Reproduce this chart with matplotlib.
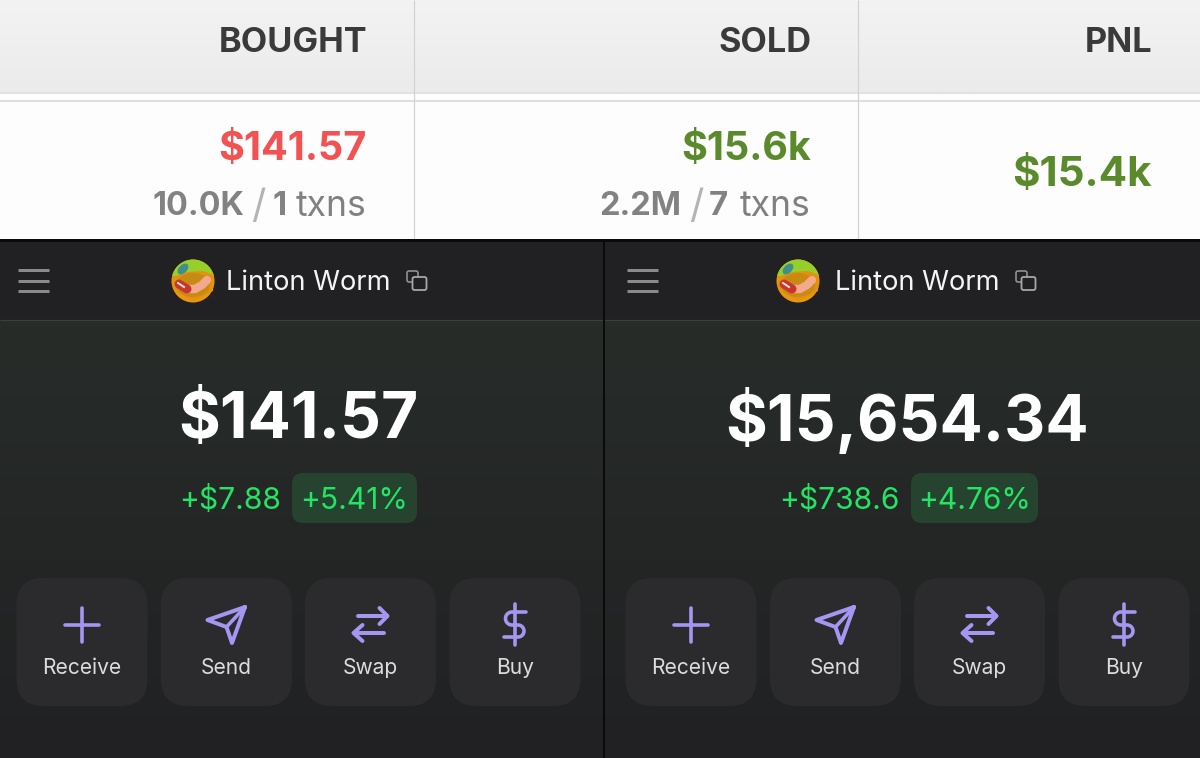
import numpy as np
import matplotlib
matplotlib.use("Agg")
import matplotlib.pyplot as plt
from matplotlib.patches import FancyBboxPatch, Circle, Rectangle, Wedge, Polygon, Ellipse

columns = ["BOUGHT", "SOLD", "PNL"]
amounts = ["$141.57", "$15.6k", "$15.4k"]
amount_colors = ["#f25252", "#5a8a2c", "#5a8a2c"]
volumes = ["10.0K", "2.2M"]
txns = ["1", "7"]
token = "Linton Worm"
balances = ["$141.57", "$15,654.34"]
changes = ["+$7.88", "+$738.6"]
percents = ["+5.41%", "+4.76%"]
actions = ["Receive", "Send", "Swap", "Buy"]

W, H = 1200, 758
fig = plt.figure(figsize=(12, 7.58), dpi=100, facecolor="white")
ax = fig.add_axes([0, 0, 1, 1])
ax.set_xlim(0, W); ax.set_ylim(H, 0); ax.axis("off")
PT = 0.72
HEAD = "Inter"
UI = "Inter"
PURPLE = "#a596f2"

def txt(x, y, s, px, color, ha="center", weight="normal", family=UI, z=5):
    return ax.text(x, y, s, fontsize=px * PT, color=color, ha=ha, va="center_baseline",
                   fontweight=weight, family=family, zorder=z)

def grad(x0, x1, y0, y1, c0, c1, z=0):
    g = np.linspace(0, 1, 64)[:, None, None]
    a = np.array(matplotlib.colors.to_rgb(c0))[None, None, :]
    b = np.array(matplotlib.colors.to_rgb(c1))[None, None, :]
    ax.imshow(a * (1 - g) + b * g, extent=(x0, x1, y1, y0), aspect="auto", zorder=z)

def ln(xs, ys, c, lw, z=4, cap="round"):
    ax.plot(xs, ys, color=c, lw=lw * PT, solid_capstyle=cap, solid_joinstyle="round", zorder=z)

# ---- top table ----
grad(0, W, 0, 92, "#f3f3f3", "#ebebeb")
ax.add_patch(Rectangle((0, 92), W, 148, fc="#fdfdfd", ec="none", zorder=0.5))
ln([0, W], [93, 93], "#d8d8d8", 1.5, z=1, cap="butt")
ln([0, W], [101, 101], "#d4d4d4", 1.5, z=1, cap="butt")
for xd in (414, 858):
    ln([xd, xd], [0, 240], "#d2d2d2", 1.2, z=1, cap="butt")

rights = [367, 811, 1152]
for r, c, a, col in zip(rights, columns, amounts, amount_colors):
    txt(r, 39, c, 34.3, "#3a3a3a", ha="right", weight="bold", family=HEAD)
    if c == "PNL":
        txt(r, 171, a, 42, col, ha="right", weight="bold", family=HEAD)
    else:
        txt(r, 145, a, 39.5, col, ha="right", weight="bold", family=HEAD)

# volume / count txns, with the gaps of each column
sub_right = [366, 810]
sub_layout = [dict(n=79, s=101, v=122), dict(n=82, s=107, v=129)]
for r, v, t, o in zip(sub_right, volumes, txns, sub_layout):
    txt(r, 203, "txns", 35.5, "#808080", ha="right", family=HEAD)
    txt(r - o["n"], 203, t, 33, "#828282", ha="right", weight="bold", family=HEAD)
    txt(r - o["s"], 203, "/", 40, "#b4b4b4", ha="right", family=HEAD)
    txt(r - o["v"], 203, v, 32.5, "#828282", ha="right", weight="bold", family=HEAD)

# ---- wallet panels ----
ax.add_patch(Rectangle((0, 240), W, 80, fc="#212023", ec="none", zorder=0.5))
grad(0, W, 320, H, "#272c29", "#212123", z=0.6)
ax.add_patch(Rectangle((0, 239), W, 3, fc="#0a0a0a", ec="none", zorder=3))
ax.add_patch(Rectangle((603, 240), 2, H - 240, fc="#0a0a0a", ec="none", zorder=3))
ln([0, W], [320, 320], "#3c3f3b", 1.2, z=2, cap="butt")

panels = [
    dict(x0=0, avatar=193, name=308, copy=416, bal=298, chg_r=281, pill=(292, 417), pct=354.5),
    dict(x0=609, avatar=798, name=917, copy=1025, bal=907, chg_r=900, pill=(911, 1038), pct=974.5),
]
cols_dx = [82, 226.5, 370.5, 515]

def avatar(cx, cy):
    r = 21.5
    ax.add_patch(Circle((cx, cy), r, fc="#e9970f", ec="none", zorder=3))
    ax.add_patch(Wedge((cx, cy), r, 195, 345, fc="#96cf2c", ec="none", zorder=3.1))
    ax.add_patch(Ellipse((cx - 10, cy - 12), 8, 13, angle=45, fc="#3f8f8a", ec="none", zorder=3.3))
    ax.add_patch(Polygon([(cx - 20, cy - 4), (cx - 6, cy - 9), (cx + 10, cy - 10), (cx + 21, cy - 6),
                          (cx + 20, cy + 10), (cx, cy + 20), (cx - 20, cy + 8)],
                         fc="#e2920e", ec="none", zorder=3.2))
    ax.add_patch(Ellipse((cx, cy + 4), 34, 24, fc="#c98a14", ec="none", zorder=3.25))
    wx = [cx - 14, cx - 6, cx + 2, cx + 9, cx + 14]
    wy = [cy + 3, cy + 8, cy + 8, cy + 4, cy - 1]
    ax.plot(wx, wy, color="#f2a98c", lw=6, solid_capstyle="round", zorder=3.4)
    ax.plot(wx[:2], wy[:2], color="#c8352e", lw=6.5, solid_capstyle="round", zorder=3.5)
    ax.plot([cx - 15, cx - 9], [cy + 2, cy + 6], color="#f6e3d6", lw=1.4, zorder=3.6)

def icon_plus(cx, cy):
    ln([cx - 17, cx + 17], [cy, cy], PURPLE, 3.6)
    ln([cx, cx], [cy - 17, cy + 17], PURPLE, 3.6)

def icon_send(cx, cy):
    tip = (cx + 18.5, cy - 18); left = (cx - 19, cy - 5); mid = (cx + 0, cy + 2); bot = (cx + 5.5, cy + 18)
    ln([tip[0], left[0], mid[0], bot[0], tip[0]], [tip[1], left[1], mid[1], bot[1], tip[1]], PURPLE, 4)
    ln([mid[0], tip[0]], [mid[1], tip[1]], PURPLE, 3.6)

def icon_swap(cx, cy):
    ln([cx - 13, cx + 16], [cy - 9, cy - 9], PURPLE, 4)
    ln([cx + 9, cx + 17, cx + 9], [cy - 17, cy - 9, cy - 1], PURPLE, 4)
    ln([cx - 16, cx + 13], [cy + 8, cy + 8], PURPLE, 4)
    ln([cx - 8, cx - 17, cx - 8], [cy + 0, cy + 8, cy + 16], PURPLE, 4)

def icon_dollar(cx, cy):
    ln([cx, cx], [cy - 21, cy + 20], PURPLE, 3.6)
    a1 = np.linspace(-0.5, -1.5, 24) * np.pi
    a2 = np.linspace(-0.5, 0.5, 24) * np.pi
    xs = np.concatenate([[cx + 11], cx - 3 + 6.5 * np.cos(a1), cx + 3 + 6 * np.cos(a2), [cx - 11]])
    ys = np.concatenate([[cy - 13], cy - 6.5 + 6.5 * np.sin(a1), cy + 6 + 6 * np.sin(a2), [cy + 12]])
    ln(xs, ys, PURPLE, 3.6)

icons = [icon_plus, icon_send, icon_swap, icon_dollar]

for p, bal, chg, pct in zip(panels, balances, changes, percents):
    x0 = p["x0"]
    for dy in (270, 281, 291):
        ln([x0 + 18, x0 + 49], [dy, dy], "#8a8a8a", 3, cap="butt")
    avatar(p["avatar"], 281)
    txt(p["name"], 280, token, 27.3, "#f4f4f4", ha="center")
    cx = p["copy"]
    ax.add_patch(FancyBboxPatch((cx - 9, 271), 11, 11, boxstyle="round,pad=0,rounding_size=2",
                                fc="none", ec="#9a9a9a", lw=1.1, zorder=4))
    ax.add_patch(FancyBboxPatch((cx - 3.5, 277), 14, 13, boxstyle="round,pad=0,rounding_size=2",
                                fc="#212023", ec="#a8a8a8", lw=1.3, zorder=4.1))
    txt(p["bal"], 414, bal, 64, "#ffffff", weight="bold")
    txt(p["chg_r"], 498, chg, 30, "#22e563", ha="right")
    a, b = p["pill"]
    ax.add_patch(FancyBboxPatch((a, 473), b - a, 50, boxstyle="round,pad=0,rounding_size=11",
                                fc="#25432f", ec="none", zorder=2))
    txt(p["pct"], 498, pct, 30, "#22e563")
    for dx, label, ic in zip(cols_dx, actions, icons):
        bx = x0 + dx
        ax.add_patch(FancyBboxPatch((bx - 65.5, 578), 131, 128, boxstyle="round,pad=0,rounding_size=27",
                                    fc="#2b2a2c", ec="none", zorder=2))
        ic(bx, 625)
        txt(bx, 665.5, label, 21, "#dcdcdc")

fig.savefig("out.png", dpi=100, facecolor="white")
